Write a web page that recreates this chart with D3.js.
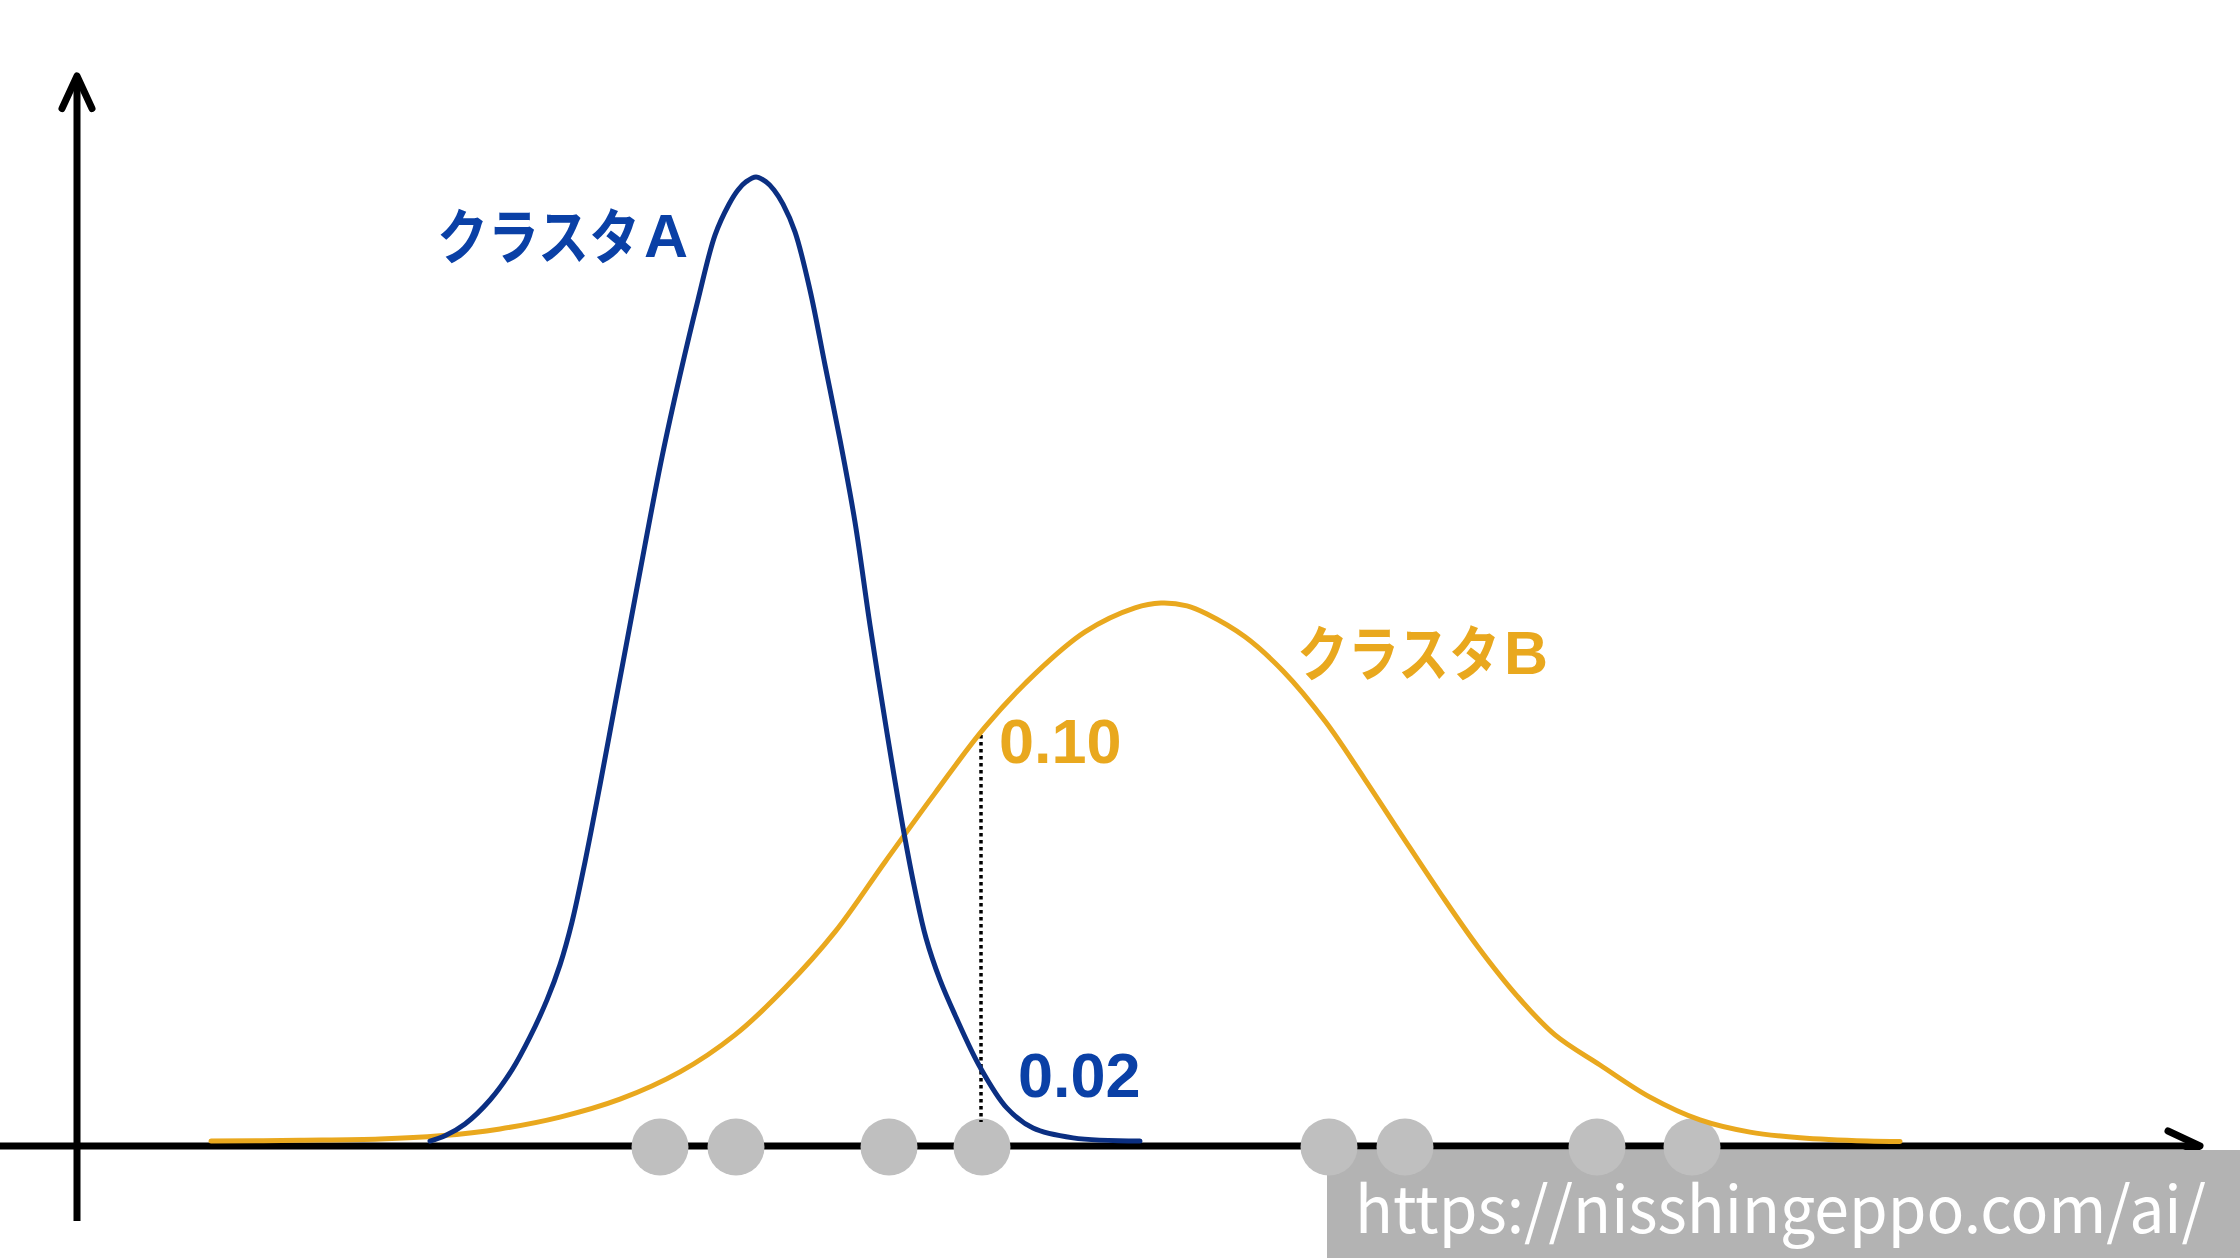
<!DOCTYPE html>
<html>
<head>
<meta charset="utf-8">
<script src="https://cdn.jsdelivr.net/npm/d3@7"></script>
<style>
  html, body { margin: 0; padding: 0; background: #fff; }
  svg { display: block; }
</style>
</head>
<body>
<div id="chart"></div>
<script>
// density curve of cluster A as [x, density]
const clusterA = [
	[3.53, 0.0012], [3.68, 0.0025], [3.88, 0.0054], [4.13, 0.0113],
	[4.35, 0.0187], [4.53, 0.0268], [4.70, 0.0359], [4.83, 0.0445],
	[4.95, 0.0550], [5.08, 0.0698], [5.23, 0.0887], [5.38, 0.1084],
	[5.53, 0.1280], [5.68, 0.1477], [5.85, 0.1693], [6.03, 0.1894],
	[6.21, 0.2079], [6.38, 0.2238], [6.52, 0.2314], [6.61, 0.2349],
	[6.69, 0.2369], [6.79, 0.2381], [6.89, 0.2369], [6.97, 0.2349],
	[7.06, 0.2314], [7.18, 0.2246], [7.33, 0.2103], [7.48, 0.1919],
	[7.63, 0.1735], [7.78, 0.1533], [7.93, 0.1280], [8.10, 0.1015],
	[8.27, 0.0769], [8.38, 0.0629], [8.49, 0.0511], [8.63, 0.0408],
	[8.78, 0.0322], [9.03, 0.0194], [9.30, 0.0093], [9.56, 0.0044],
	[9.96, 0.0020], [10.63, 0.0012],
];

// density curve of cluster B
const clusterB = [
	[1.34, 0.0012], [2.23, 0.0014], [3.03, 0.0017], [3.63, 0.0025],
	[4.23, 0.0042], [4.83, 0.0071], [5.43, 0.0115], [6.03, 0.0182],
	[6.58, 0.0273], [7.08, 0.0388], [7.58, 0.0526], [8.08, 0.0698],
	[8.58, 0.0867], [9.08, 0.1029], [9.58, 0.1160], [10.08, 0.1263],
	[10.58, 0.1322], [10.84, 0.1334], [11.10, 0.1327], [11.30, 0.1307],
	[11.68, 0.1251], [12.06, 0.1167], [12.48, 0.1044], [12.87, 0.0904],
	[13.25, 0.0762], [13.63, 0.0622], [14.01, 0.0489], [14.40, 0.0369],
	[14.78, 0.0273], [15.23, 0.0199], [15.73, 0.0120], [16.23, 0.0064],
	[16.73, 0.0034], [17.23, 0.0020], [17.90, 0.0012], [18.23, 0.0011],
];

// observed samples on the x axis
const samples = [5.83, 6.59, 8.12, 9.05, 12.52, 13.28, 15.20, 16.15];

// the sample whose densities are read out
const marked = { x: 9.04, densityA: 0.02, densityB: 0.10 };

const seriesNames = ["クラスタ", "クラスタ"];
const seriesLetters = ["A", "B"];
const watermark = "https://nisshingeppo.com/ai/";

const width = 2240;
const height = 1260;

const blueLine = "#0b2f82";
const blueText = "#0a40a6";
const orange = "#e9a81e";

const x = d3.scaleLinear().domain([-0.77, 21.23]).range([0, 2200]);
const y = d3.scaleLinear().domain([0, 0.25]).range([1146, 128.5]);

const svg = d3
	.select("#chart")
	.append("svg")
	.attr("width", width)
	.attr("height", height)
	.attr("viewBox", [0, 0, width, height]);

// axes with open arrow heads
const axes = svg.append("g")
	.attr("stroke", "#000")
	.attr("stroke-width", 7)
	.attr("fill", "none");

axes.append("line")
	.attr("x1", x(0)).attr("x2", x(0))
	.attr("y1", y(-0.0184)).attr("y2", y(0.262));

axes.append("polyline")
	.attr("stroke-linecap", "round")
	.attr("stroke-linejoin", "round")
	.attr("points", [
		[x(0) - 15, y(0.2549)],
		[x(0), y(0.2629)],
		[x(0) + 15, y(0.2549)],
	].join(" "));

axes.append("line")
	.attr("x1", x(-0.77)).attr("x2", x(21.2))
	.attr("y1", y(0)).attr("y2", y(0));

axes.append("polyline")
	.attr("stroke-linecap", "round")
	.attr("stroke-linejoin", "round")
	.attr("points", [
		[x(20.91), y(0) - 15],
		[x(21.23), y(0)],
		[x(20.91), y(0) + 15],
	].join(" "));

// watermark box under the axis
svg.append("rect")
	.attr("x", 1327)
	.attr("y", 1150)
	.attr("width", width - 1327)
	.attr("height", 108)
	.attr("fill", "#b3b3b3");

svg.append("text")
	.attr("x", 1355)
	.attr("y", 1233)
	.attr("fill", "#fff")
	.attr("font-family", "'Noto Sans CJK JP', 'Noto Sans', sans-serif")
	.attr("font-size", 64)
	.attr("textLength", 851)
	.attr("lengthAdjust", "spacingAndGlyphs")
	.text(watermark);

// sample points
svg.append("g")
	.attr("fill", "#bfbfbf")
	.selectAll("circle")
	.data(samples)
	.join("circle")
	.attr("cx", (d) => x(d))
	.attr("cy", y(0) + 1)
	.attr("r", 28.5);

// dotted drop line at the marked sample
svg.append("line")
	.attr("x1", x(marked.x)).attr("x2", x(marked.x))
	.attr("y1", y(marked.densityB) - 4)
	.attr("y2", y(0) - 24)
	.attr("stroke", "#000")
	.attr("stroke-width", 3.5)
	.attr("stroke-dasharray", "3.5,3.5");

// density curves
const line = d3
	.line()
	.x((d) => x(d[0]))
	.y((d) => y(d[1]))
	.curve(d3.curveCatmullRom.alpha(0.5));

svg.append("path")
	.datum(clusterB)
	.attr("fill", "none")
	.attr("stroke", orange)
	.attr("stroke-width", 5)
	.attr("stroke-linecap", "round")
	.attr("d", line);

svg.append("path")
	.datum(clusterA)
	.attr("fill", "none")
	.attr("stroke", blueLine)
	.attr("stroke-width", 5)
	.attr("stroke-linecap", "round")
	.attr("d", line);

// series labels: katakana (narrowed) and the cluster letter side by side
const latinFont = "'Liberation Sans', Arial, sans-serif";

function seriesLabel(i, lx, ly, color) {
	svg.append("text")
		.attr("transform", `translate(${lx},${ly + 2}) scale(0.85,1)`)
		.attr("fill", color)
		.attr("font-family", "'Noto Sans CJK JP', sans-serif")
		.attr("font-weight", "bold")
		.attr("font-size", 60)
		.text(seriesNames[i]);
	svg.append("text")
		.attr("x", lx + 207)
		.attr("y", ly)
		.attr("fill", color)
		.attr("font-family", latinFont)
		.attr("font-weight", "bold")
		.attr("font-size", 61)
		.text(seriesLetters[i]);
}

seriesLabel(0, 437, 257, blueText);
seriesLabel(1, 1297, 674, orange);

// density values at the marked sample
const fmt = d3.format(".2f");

svg.append("text")
	.attr("x", x(marked.x) + 18)
	.attr("y", y(marked.densityB) + 24)
	.attr("fill", orange)
	.attr("font-family", latinFont)
	.attr("font-weight", "bold")
	.attr("font-size", 63)
	.text(fmt(marked.densityB));

svg.append("text")
	.attr("x", x(marked.x) + 37)
	.attr("y", y(marked.densityA) + 32)
	.attr("fill", blueText)
	.attr("font-family", latinFont)
	.attr("font-weight", "bold")
	.attr("font-size", 63)
	.text(fmt(marked.densityA));
</script>
</body>
</html>
